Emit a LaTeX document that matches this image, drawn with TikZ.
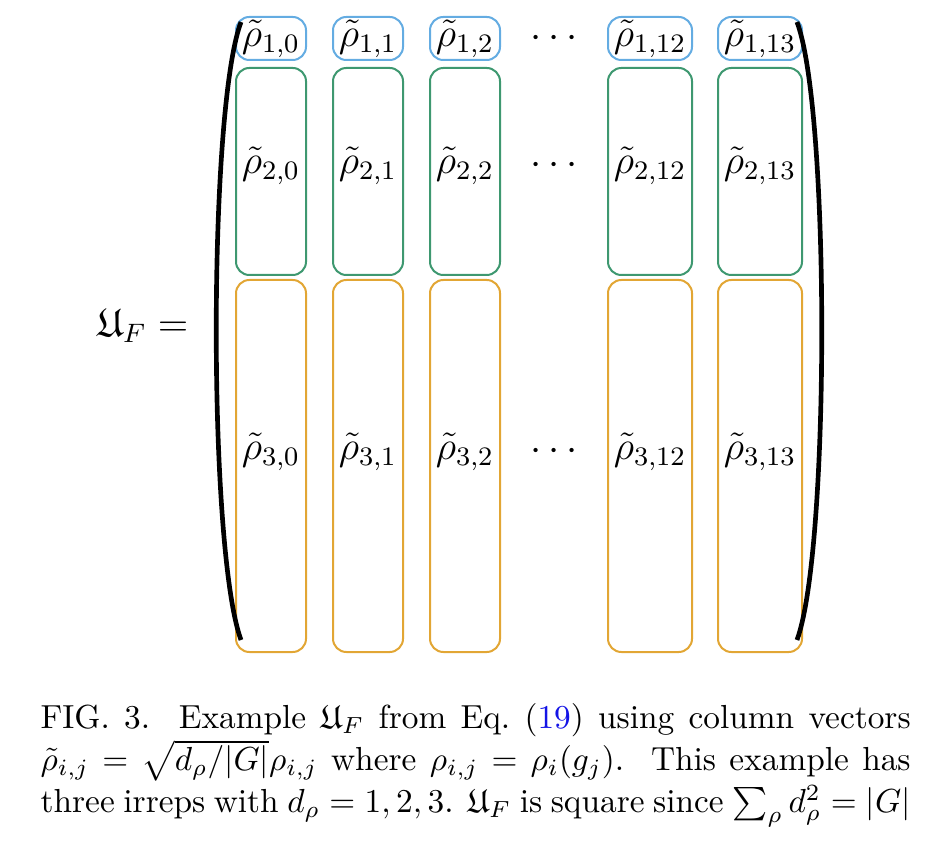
\documentclass[tikz,border=0pt]{standalone}
\usepackage{amssymb}
\definecolor{cb}{RGB}{100,172,226}
\definecolor{cg}{RGB}{62,152,112}
\definecolor{co}{RGB}{226,166,52}
\definecolor{lk}{RGB}{20,20,230}
\begin{document}
\begin{tikzpicture}[x=0.3pt,y=-0.3pt,
  cell/.style={rounded corners=4pt,line width=0.6pt},
  lab/.style={font=\large}]
\useasboundingbox (0,0) rectangle (930,848);
\foreach \l/\r/\j/\n in {236/306/0/a,333/403/1/b,430/500/2/c,608/692/12/d,718/802/13/e}{
  \draw[cell,cb] (\l,17) rectangle (\r,60);
  \draw[cell,cg] (\l,68) rectangle (\r,275);
  \draw[cell,co] (\l,280) rectangle (\r,652);
  \node[lab] (r1\n) at ({(\l+\r)/2},39) {$\tilde\rho_{1,\j}$};
  \node[lab] (r2\n) at ({(\l+\r)/2},166) {$\tilde\rho_{2,\j}$};
  \node[lab] (r3\n) at ({(\l+\r)/2},452) {$\tilde\rho_{3,\j}$};
}
\foreach \y/\k in {39/1,166/2,452/3} \node[lab] (dots\k) at (554,\y) {$\cdots$};
\draw[line width=1.4pt] (241,22) .. controls (208,110) and (208,550) .. (241,640);
\draw[line width=1.4pt] (797,22) .. controls (830,110) and (830,550) .. (797,640);
\node[lab,anchor=east] (uf) at (200,326) {$\mathfrak{U}_F =$};
\node[anchor=north west,text width=261pt,align=justify,inner sep=0pt,font=\normalsize] (cap) at (40,703)
{\baselineskip=12.6pt FIG. 3.\ \ Example $\mathfrak{U}_F$ from Eq.~({\color{lk}19}) using column vectors\linebreak
$\tilde\rho_{i,j}=\sqrt{d_\rho/|G|}\rho_{i,j}$ where $\rho_{i,j}=\rho_i(g_j)$.\ \ This example has\linebreak
three irreps with $d_\rho=1,2,3$. $\mathfrak{U}_F$ is square since $\sum_\rho d_\rho^2=|G|$\par};
\end{tikzpicture}
\end{document}
